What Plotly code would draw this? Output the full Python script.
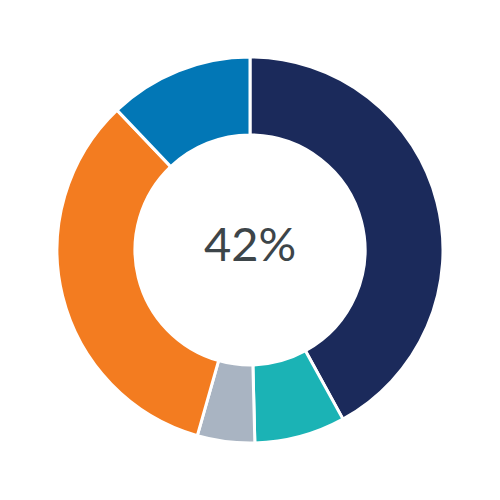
import plotly.graph_objects as go

labels = ["A", "B", "C", "D", "E"]
values = [42, 7.6, 4.8, 33.5, 12.1]
colors = ["#1b2a5b", "#1bb3b5", "#a9b4c2", "#f37c20", "#0277b6"]
center_text = "42%"

fig = go.Figure(go.Pie(
    labels=labels,
    values=values,
    hole=0.596,
    sort=False,
    direction="clockwise",
    rotation=0,
    marker=dict(colors=colors, line=dict(color="white", width=3)),
    textinfo="none",
    hoverinfo="label+percent",
    domain=dict(x=[0.098, 0.870], y=[0.130, 0.902]),
))

fig.update_layout(
    width=500, height=500,
    margin=dict(l=0, r=0, t=0, b=0),
    paper_bgcolor="white",
    plot_bgcolor="white",
    showlegend=False,
    annotations=[dict(
        text=center_text, x=0.484, y=0.530, xref="paper", yref="paper",
        showarrow=False, font=dict(family="Lato", size=47, color="#3d4549"),
    )],
)

fig.write_html("out.html")
